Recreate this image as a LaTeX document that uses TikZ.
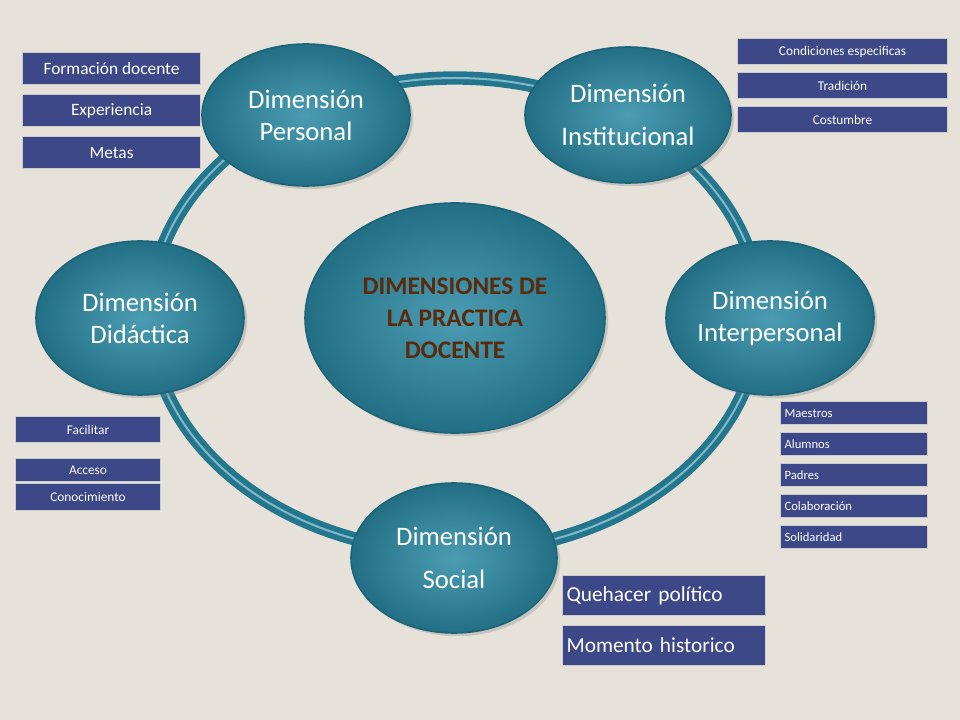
\documentclass[tikz,border=0pt]{standalone}
\usepackage{fontspec}
\setmainfont{Carlito}
\usetikzlibrary{shapes.geometric,shadows}
\definecolor{bgc}{HTML}{E6E2DA}
\definecolor{teal1}{HTML}{2B8BA6}
\definecolor{teal2}{HTML}{1B6479}
\definecolor{boxc}{HTML}{3D4888}
\definecolor{brn}{HTML}{5A2A0A}
\begin{document}
\begin{tikzpicture}[x=0.75pt,y=-0.75pt,
  dim/.style={ellipse,draw=teal2,line width=1.2pt,inner sep=0pt,inner color=teal1!85!white,outer color=teal1!80!black,text=white,font=\fontsize{20}{24}\selectfont,align=center,drop shadow={opacity=0.3}},
  lbox/.style={rectangle,draw=gray!40,line width=0.8pt,fill=boxc,text=white,anchor=north west,inner sep=0pt},
]
\fill[bgc] (0,0) rectangle (960,720);
\useasboundingbox (0,0) rectangle (960,720);
\draw[teal1!85!black,line width=10pt] (455,315) ellipse [x radius=305, y radius=237];
\draw[teal1!60!white,line width=1.5pt] (455,315) ellipse [x radius=305, y radius=237];
\node[dim,minimum width=300*0.75pt,minimum height=230*0.75pt,text=brn,font=\bfseries\fontsize{19}{24}\selectfont] (c) at (455,318) {DIMENSIONES DE\\LA PRACTICA\\DOCENTE};
\node[dim,minimum width=208*0.75pt,minimum height=142*0.75pt] (p) at (306,115) {Dimensión\\Personal};
\node[dim,minimum width=206*0.75pt,minimum height=136*0.75pt,font=\fontsize{20}{32}\selectfont] (i) at (628,115) {Dimensión\\Institucional};
\node[dim,minimum width=208*0.75pt,minimum height=154*0.75pt] (d) at (140,318) {Dimensión\\Didáctica};
\node[dim,minimum width=208*0.75pt,minimum height=154*0.75pt] (ip) at (770,318) {Dimensión\\Interpersonal};
\node[dim,minimum width=206*0.75pt,minimum height=150*0.75pt,font=\fontsize{20}{32}\selectfont] (s) at (454,558) {Dimensión\\Social};
% left top
\foreach \n/\t/\y in {f1/Formación docente/52, f2/Experiencia/94, f3/Metas/136}
  \node[lbox,minimum width=178*0.75pt,minimum height=32*0.75pt,font=\fontsize{13}{15}\selectfont] (\n) at (22,\y) {\t};
% right top
\foreach \n/\t/\y in {r1/Condiciones especificas/38, r2/Tradición/72, r3/Costumbre/106}
  \node[lbox,minimum width=210*0.75pt,minimum height=26*0.75pt,font=\fontsize{10}{12}\selectfont] (\n) at (737,\y) {\t};
% left bottom
\node[lbox,minimum width=145*0.75pt,minimum height=26*0.75pt,font=\fontsize{10}{12}\selectfont] (b1) at (15,416) {Facilitar};
\node[lbox,minimum width=145*0.75pt,minimum height=23*0.75pt,font=\fontsize{10}{12}\selectfont] (b2) at (15,458) {Acceso};
\node[lbox,minimum width=145*0.75pt,minimum height=27*0.75pt,font=\fontsize{10}{12}\selectfont] (b3) at (15,483) {Conocimiento};
% right mid
\foreach \n/\t/\y in {m1/Maestros/401, m2/Alumnos/432, m3/Padres/463, m4/Colaboración/494, m5/Solidaridad/525}
  \node[lbox,minimum width=145*0.75pt,minimum height=23*0.75pt,text width=139*0.75pt,inner xsep=3pt,align=left,font=\fontsize{9.5}{11}\selectfont] (\n) at (780,\y) {\t};
% bottom
\node[lbox,minimum width=203*0.75pt,minimum height=40*0.75pt,text width=195*0.75pt,inner xsep=3pt,align=left,font=\fontsize{16}{19}\selectfont] (q1) at (562,575) {Quehacer político};
\node[lbox,minimum width=203*0.75pt,minimum height=40*0.75pt,text width=195*0.75pt,inner xsep=3pt,align=left,font=\fontsize{16}{19}\selectfont] (q2) at (562,625) {Momento historico};
\end{tikzpicture}
\end{document}
